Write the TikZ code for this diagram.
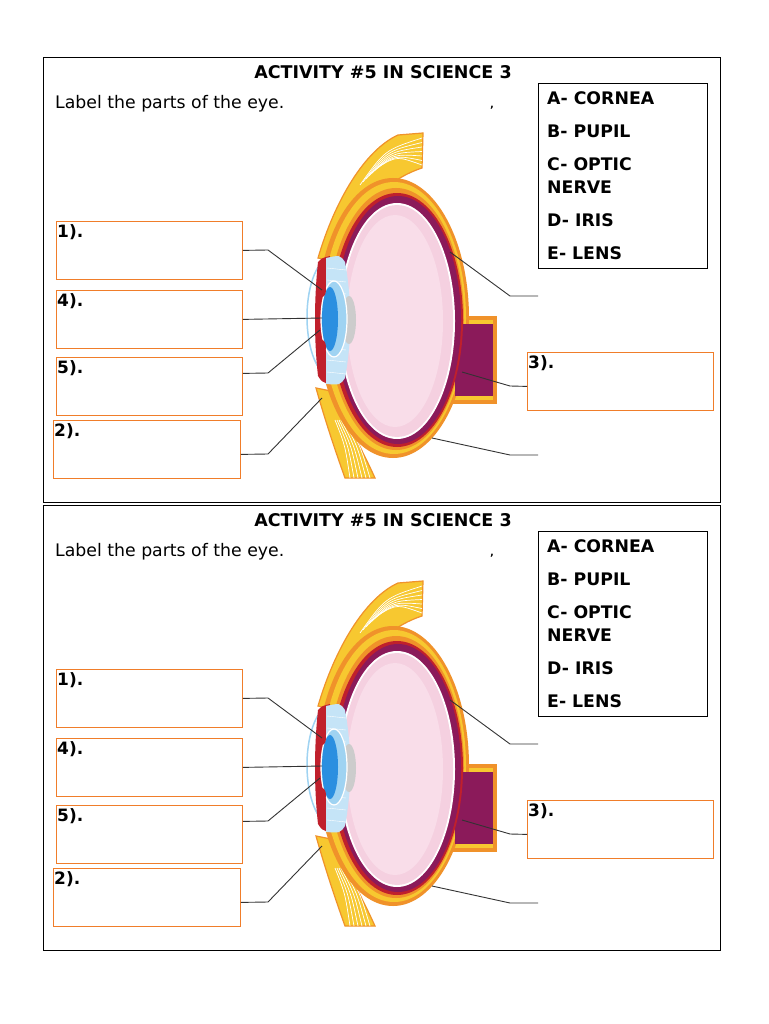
\documentclass[tikz,border=0pt]{standalone}
\usepackage{fontspec}
\setmainfont{DejaVu Sans}
\definecolor{eor}{HTML}{F0922A}
\definecolor{eye}{HTML}{F7C830}
\definecolor{ered}{HTML}{C0202C}
\definecolor{epur}{HTML}{8B1A5A}
\definecolor{epink}{HTML}{F5D0E0}
\definecolor{epink2}{HTML}{F9DDE9}
\definecolor{eblue}{HTML}{2B8FE0}
\definecolor{elb}{HTML}{9FD3F2}
\definecolor{eteal}{HTML}{5FC4B8}
\definecolor{boxor}{HTML}{F07D2A}
\tikzset{
  lbox/.style={draw=boxor,line width=0.8pt,anchor=north west,minimum width=186pt,minimum height=58pt,inner sep=0pt},
  lbl/.style={anchor=north west,font=\fontsize{17}{19}\selectfont\bfseries,inner sep=0pt},
  conn/.style={draw=black!80,line width=0.9pt},
  muscle/.style={fill=eye,draw=eor,line width=1.2pt},
  stripe/.style={draw=white,line width=0.7pt}
}
\newcommand{\wsheet}[2]{%
\begin{scope}[shift={(0,#2)}]
\draw[line width=0.8pt] (43,57) rectangle (720,502);
\node[font=\fontsize{17.5}{19}\selectfont\bfseries] (#1t) at (383,72) {ACTIVITY \#5 IN SCIENCE 3};
\node[anchor=west,font=\fontsize{17.3}{19}\selectfont,inner sep=0pt] (#1s) at (55,104) {Label the parts of the eye.};
\node[font=\bfseries] (#1q) at (492,110) {'};
\node[draw,line width=0.8pt,anchor=north west,minimum width=169pt,minimum height=185pt,inner sep=0pt] (#1ans) at (538,83) {};
\foreach \t/\yy in {A- CORNEA/98,B- PUPIL/131,C- OPTIC/164,NERVE/187,D- IRIS/220,E- LENS/253}
  \node[anchor=west,inner sep=0pt,font=\fontsize{17.3}{19}\selectfont\bfseries] at (547,\yy) {\t};
% eye
\begin{scope}
% muscles
\path[muscle] (318,258) .. controls (335,200) and (365,150) .. (398,135) -- (423,133) -- (422,168) .. controls (385,180) and (350,215) .. (336,262) -- cycle;
\foreach \k in {0,1,2,3,4,5,6} \draw[stripe] (360+3*\k,185-3*\k) .. controls (385+2*\k,150+\k) .. (422,138+4.5*\k);
\path[muscle] (316,388) .. controls (325,420) and (335,450) .. (345,478) -- (375,478) .. controls (360,445) and (345,420) .. (336,392) -- cycle;
\foreach \k in {0,1,2,3,4,5} \draw[stripe] (335+2*\k,420) .. controls (345+3*\k,445) .. (350+4*\k,478);
% cornea
\filldraw[fill=white,draw=elb,line width=1.5pt] (332,317) ellipse [x radius=25,y radius=60];
\fill[eteal] (334,317) ellipse [x radius=18,y radius=50];
% optic nerve behind
\fill[eor] (440,316) rectangle (497,404);
\fill[eye] (440,320) rectangle (493,400);
% eye layers
\fill[eor] (393,318) ellipse [x radius=76,y radius=140];
\fill[eye] (394,318) ellipse [x radius=72,y radius=136];
\fill[eor] (396,319) ellipse [x radius=68,y radius=131];
\fill[epur] (455,324) rectangle (493,396);
\fill[ered] (397,320) ellipse [x radius=66,y radius=127];
\fill[epur] (398,320) ellipse [x radius=63,y radius=124];
\fill[white] (397,321) ellipse [x radius=58,y radius=118];
\fill[epink] (397,321) ellipse [x radius=56,y radius=116];
\fill[epink2] (395,321) ellipse [x radius=48,y radius=106];
% front
\fill[ered] (318,262) .. controls (322,258) .. (330,256) -- (330,384) .. controls (322,382) .. (318,376) .. controls (314,340) and (314,300) .. cycle;
\fill[elb!60] (326,258) .. controls (340,255) .. (345,262) .. controls (352,300) and (352,340) .. (345,378) .. controls (340,385) .. (326,384) -- cycle;
\foreach \yy in {268,280,292,348,360,372} \draw[white,line width=0.4pt] (327,\yy) -- (346,\yy+2);
\fill[black!20] (349,320) ellipse [x radius=7,y radius=24];
\filldraw[fill=elb,draw=white,line width=1.2pt] (334,319) ellipse [x radius=13,y radius=38];
\fill[eblue] (330,319) ellipse [x radius=8,y radius=32];
\fill[ered] (322,290) ellipse [x radius=4,y radius=7];
\fill[ered] (322,347) ellipse [x radius=4,y radius=7];
\end{scope}
% boxes
\node[lbox] (#1b1) at (56,221) {};
\node[lbox] (#1b4) at (56,290) {};
\node[lbox] (#1b5) at (56,357) {};
\node[lbox,minimum width=187pt] (#1b2) at (53,420) {};
\node[lbox] (#1b3) at (527,352) {};
\node[lbl] at (57,224) {1).};
\node[lbl] at (57,293) {4).};
\node[lbl] at (57,360) {5).};
\node[lbl] at (54,423) {2).};
\node[lbl] at (528,355) {3).};
% connectors
\coordinate (#1p1) at (322,290);
\coordinate (#1p4) at (322,318);
\coordinate (#1p5) at (320,330);
\coordinate (#1p2) at (322,398);
\coordinate (#1pr) at (450,252);
\coordinate (#1er) at (538,296);
\coordinate (#1p3) at (462,372);
\coordinate (#1pb) at (432,438);
\coordinate (#1eb) at (538,455);
\draw[conn] (#1b1.east) -- (268,250) -- (#1p1);
\draw[conn] (#1b4.east) -- (#1p4);
\draw[conn] ([yshift=13pt]#1b5.east) -- (268,373) -- (#1p5);
\draw[conn] ([yshift=-5pt]#1b2.east) -- (268,454) -- (#1p2);
\draw[conn] (#1er) -- (510,296) -- (#1pr);
\draw[conn] ([yshift=-5pt]#1b3.west) -- (510,386) -- (#1p3);
\draw[conn] (#1eb) -- (510,455) -- (#1pb);
\end{scope}}
\begin{document}
\begin{tikzpicture}[x=1pt,y=-1pt]
\useasboundingbox[fill=white] (0,0) rectangle (768,1024);
\wsheet{u}{0}
\wsheet{d}{448}
\end{tikzpicture}
\end{document}
